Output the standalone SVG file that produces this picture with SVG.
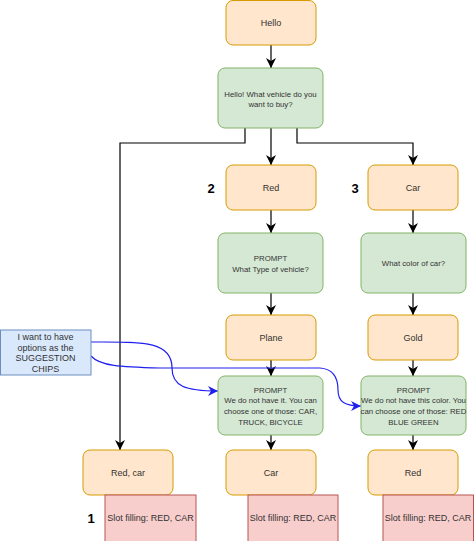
<svg xmlns="http://www.w3.org/2000/svg" width="474" height="541" viewBox="0 0 474 541">
<style>
.o{fill:#ffe6cc;stroke:#d79b00;stroke-width:1}
.g{fill:#d5e8d4;stroke:#82b366;stroke-width:1}
.b{fill:#dae8fc;stroke:#6c8ebf;stroke-width:1}
.p{fill:#f8cecc;stroke:#b85450;stroke-width:1}
.t{font-family:"Liberation Sans",Arial,sans-serif;font-size:9px;fill:#333;text-anchor:middle;dominant-baseline:central}
.s{font-family:"Liberation Sans",Arial,sans-serif;font-size:7.8px;fill:#333;text-anchor:middle;dominant-baseline:central}
.n{font-family:"Liberation Sans",Arial,sans-serif;font-size:13px;font-weight:bold;fill:#000;text-anchor:middle;dominant-baseline:central}
.c{fill:none;stroke:#000;stroke-width:1.2;marker-end:url(#arr)}
.bc{fill:none;stroke:#2020ee;stroke-width:1.2;marker-end:url(#barr)}
</style>
<defs>
<marker id="arr" viewBox="0 0 10 10" refX="10" refY="5" markerWidth="10" markerHeight="10" orient="auto" markerUnits="userSpaceOnUse"><path d="M0,0 L10,5 L0,10 L3,5 z" fill="#000"/></marker>
<marker id="barr" viewBox="0 0 10 10" refX="10" refY="5" markerWidth="10" markerHeight="10" orient="auto" markerUnits="userSpaceOnUse"><path d="M0,0 L10,5 L0,10 L3,5 z" fill="#2020ee"/></marker>
</defs>
<rect width="474" height="541" fill="#fff"/>
<g id="connectors">
<path class="c" d="M271,45 V68"/>
<path class="c" d="M271,128 V165"/>
<path class="c" d="M245,128 V143 H120 V450"/>
<path class="c" d="M297,128 V143 H413 V165"/>
<path class="c" d="M271,210 V233"/>
<path class="c" d="M271,293 V315"/>
<path class="c" d="M271,360 V376"/>
<path class="c" d="M271,435 V450"/>
<path class="c" d="M413,210 V233"/>
<path class="c" d="M413,293 V315"/>
<path class="c" d="M413,360 V376"/>
<path class="c" d="M413,435 V450"/>
<path class="bc" d="M91,342 C140,342 172,340 172,368 C172,386 185,391 218,391"/>
<path class="bc" d="M91,356 C100,366 120,367 160,368 L320,368 C334,369 338,378 338,390 C338,402 345,406 361,406"/>
</g>
<g id="hello"><rect class="o" x="226" y="0.5" width="90" height="44.5" rx="7"/><text class="t" x="271" y="23">Hello</text></g>
<g id="ask"><rect class="g" x="218" y="68" width="105" height="60" rx="7"/><text class="s" x="270.5" y="94">Hello! What vehicle do you</text><text class="s" x="270.5" y="104.5">want to buy?</text></g>
<g id="red"><rect class="o" x="226" y="165" width="90" height="45" rx="7"/><text class="t" x="271" y="188">Red</text></g>
<g id="car"><rect class="o" x="368" y="165" width="90" height="45" rx="7"/><text class="t" x="413" y="188">Car</text></g>
<g id="label2"><text class="n" x="211" y="188">2</text></g>
<g id="label3"><text class="n" x="355" y="188">3</text></g>
<g id="prompt1"><rect class="g" x="218" y="233" width="105" height="60" rx="7"/><text class="s" x="270.5" y="258">PROMPT</text><text class="s" x="270.5" y="269">What Type of vehicle?</text></g>
<g id="prompt2"><rect class="g" x="361" y="233" width="105" height="60" rx="7"/><text class="s" x="413.5" y="263">What color of car?</text></g>
<g id="plane"><rect class="o" x="226" y="315" width="90" height="45" rx="7"/><text class="t" x="271" y="338">Plane</text></g>
<g id="gold"><rect class="o" x="368" y="315" width="90" height="45" rx="7"/><text class="t" x="413" y="338">Gold</text></g>
<g id="note"><rect class="b" x="0.5" y="330" width="90.5" height="45"/><text class="t" x="45.5" y="337">I want to have</text><text class="t" x="45.5" y="347.5">options as the</text><text class="t" x="45.5" y="358">SUGGESTION</text><text class="t" x="45.5" y="368.5">CHIPS</text></g>
<g id="prompt3"><rect class="g" x="218" y="376" width="105" height="59" rx="7"/><text class="s" x="270.5" y="390">PROMPT</text><text class="s" x="270.5" y="400.7">We do not have it. You can</text><text class="s" x="270.5" y="411.4">choose one of those: CAR,</text><text class="s" x="270.5" y="422">TRUCK, BICYCLE</text></g>
<g id="prompt4"><rect class="g" x="361" y="376" width="105" height="59" rx="7"/><text class="s" x="413.5" y="390">PROMPT</text><text class="s" x="413.5" y="400.7">We do not have this color. You</text><text class="s" x="413.5" y="411.4">can choose one of those: RED</text><text class="s" x="413.5" y="422">BLUE GREEN</text></g>
<g id="redcar"><rect class="o" x="83" y="450" width="90" height="45" rx="7"/><text class="t" x="128" y="473">Red, car</text></g>
<g id="car2"><rect class="o" x="226" y="450" width="90" height="45" rx="7"/><text class="t" x="271" y="473">Car</text></g>
<g id="red2"><rect class="o" x="368" y="450" width="90" height="45" rx="7"/><text class="t" x="413" y="473">Red</text></g>
<g id="slot1"><rect class="p" x="105" y="495" width="91" height="50"/><text class="t" x="150.5" y="518">Slot filling: RED, CAR</text></g>
<g id="slot2"><rect class="p" x="248" y="495" width="90" height="50"/><text class="t" x="293" y="518">Slot filling: RED, CAR</text></g>
<g id="slot3"><rect class="p" x="383" y="495" width="90.5" height="50"/><text class="t" x="428" y="518">Slot filling: RED, CAR</text></g>
<g id="label1"><text class="n" x="91" y="518">1</text></g>
</svg>
